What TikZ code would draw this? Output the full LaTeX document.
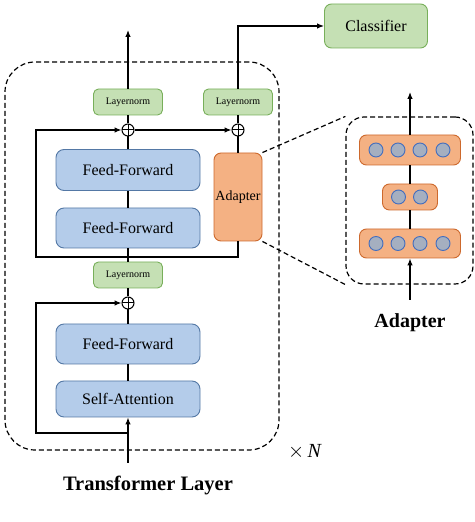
\documentclass[tikz,border=0pt]{standalone}
\usepackage{fontspec}
\setmainfont{Liberation Serif}
\usetikzlibrary{arrows.meta}

\definecolor{ffblue}{RGB}{180,204,234}
\definecolor{ffedge}{RGB}{84,120,165}
\definecolor{lngreen}{RGB}{197,224,180}
\definecolor{lnedge}{RGB}{120,175,90}
\definecolor{adorange}{RGB}{244,177,131}
\definecolor{adedge}{RGB}{205,105,45}
\definecolor{unitgray}{RGB}{165,175,192}
\definecolor{unitedge}{RGB}{68,110,190}

\tikzset{
  ffbox/.style={draw=ffedge, fill=ffblue, line width=0.9pt, rounded corners=8pt,
    minimum width=144pt, minimum height=40pt, inner sep=0pt,
    font=\fontsize{16}{18}\selectfont},
  normbox/.style={draw=lnedge, fill=lngreen, line width=0.9pt, rounded corners=5pt,
    minimum width=69pt, minimum height=26pt, inner sep=0pt,
    font=\fontsize{10}{12}\selectfont},
  plusnode/.style={draw, circle, line width=1pt, minimum size=12pt, inner sep=0pt,
    path picture={\draw[line width=1pt] (path picture bounding box.north) -- (path picture bounding box.south)
      (path picture bounding box.west) -- (path picture bounding box.east);}},
  adbox/.style={draw=adedge, fill=adorange, line width=0.9pt, rounded corners=7pt, inner sep=0pt},
  unit/.style={draw=unitedge, fill=unitgray, circle, line width=0.9pt, minimum size=14pt, inner sep=0pt},
  zoombox/.style={draw, dashed, line width=1.2pt, dash pattern=on 5pt off 3pt, inner sep=0pt},
  flow/.style={line width=1.2pt},
  title/.style={font=\fontsize{20.5}{24}\selectfont\bfseries}
}

\begin{document}
\begin{tikzpicture}[x=1pt, y=1pt, >={Latex[length=7pt,width=5.5pt]}]
\useasboundingbox (0,0) rectangle (474,522);

% transformer layer
\node (layer) [zoombox, rounded corners=30pt, minimum width=274pt, minimum height=388pt] at (142,266) {};
\node (SA) [ffbox, minimum height=36pt] at (128,123) {Self-Attention};
\node (FF3) [ffbox, above of=SA, node distance=55pt] {Feed-Forward};
\node (plus3) [plusnode, above of=FF3, node distance=41pt] {};
\node (LN3) [normbox, above of=plus3, node distance=28pt] {Layernorm};
\node (FF2) [ffbox, above of=LN3, node distance=47pt] {Feed-Forward};
\node (FF1) [ffbox, minimum height=41pt, above of=FF2, node distance=58pt] {Feed-Forward};
\node (plus1) [plusnode, above of=FF1, node distance=40pt] {};
\node (LN1) [normbox, above of=plus1, node distance=28pt] {Layernorm};
\node (plus2) [plusnode, right of=plus1, node distance=110pt] {};
\node (LN2) [normbox, right of=LN1, node distance=110pt] {Layernorm};
\node (AD) [adbox, minimum width=48pt, minimum height=88pt, below of=plus2, node distance=67pt,
  font=\fontsize{14}{16}\selectfont] {Adapter};
\node (CLS) [normbox, rounded corners=7pt, minimum width=103pt, minimum height=44pt,
  font=\fontsize{16}{18}\selectfont] at (376,496) {Classifier};

\coordinate (in) at (128,59);
\coordinate (split0) at (128,89);
\coordinate (split1) at (128,265);
\coordinate (out) at (128,492);
\coordinate (turn) at (238,496);

\draw[flow, ->] (in) -- (SA);
\draw[flow] (SA) -- (FF3) (FF3) -- (plus3) (plus3) -- (LN3) (LN3) -- (FF2) (FF2) -- (FF1)
  (FF1) -- (plus1) (plus1) -- (LN1);
\draw[flow, ->] (LN1) -- (out);
\draw[flow, ->] (split0) -- ++(-92,0) |- (plus3);
\draw[flow, ->] (split1) -- ++(-92,0) |- (plus1);
\draw[flow, ->] (plus1) -- (plus2);
\draw[flow] (AD.south) |- (split1);
\draw[flow] (AD) -- (plus2) (plus2) -- (LN2);
\draw[flow, ->] (LN2) -- (turn) -- (CLS);

\node (TL) [title] at (148,37) {Transformer Layer};
\node (times) [font=\fontsize{20}{22}\selectfont] at (305,70) {$\times$\,\textit{N}};

% adapter detail
\node (zoom) [zoombox, rounded corners=18pt, minimum width=127pt, minimum height=167pt] at (409.5,321.5) {};
\node (lay3) [adbox, minimum width=101pt, minimum height=29pt] at (410,278.5) {};
\node (lay2) [adbox, minimum width=55pt, minimum height=26pt, above of=lay3, node distance=46.5pt] {};
\node (lay1) [adbox, minimum width=101pt, minimum height=30pt, above of=lay2, node distance=47pt] {};
\foreach \x [count=\i] in {376,398,420,443} {
  \node (top\i) [unit] at (\x,372) {};
  \node (bot\i) [unit] at (\x,278.5) {};
}
\foreach \x [count=\i] in {398.5,420.5}
  \node (mid\i) [unit] at (\x,325) {};
\coordinate (zin) at (410,222);
\coordinate (zout) at (410,430);
\draw[flow, ->] (zin) -- (lay3);
\draw[flow] (lay3) -- (lay2) (lay2) -- (lay1);
\draw[flow, ->] (lay1) -- (zout);
\draw[zoombox] (AD.north east) -- (zoom.north west);
\draw[zoombox] (AD.south east) -- (zoom.south west);
\node (ADL) [title, font=\fontsize{20}{24}\selectfont\bfseries] at (410,199) {Adapter};
\end{tikzpicture}
\end{document}
